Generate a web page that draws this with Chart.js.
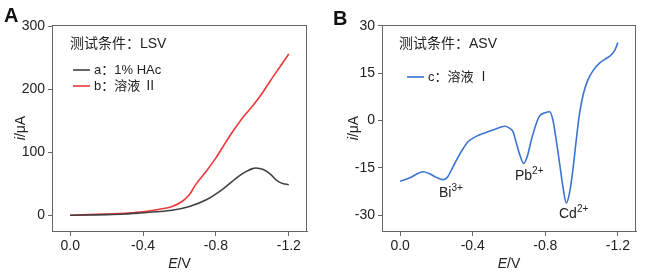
<!DOCTYPE html>
<html>
<head>
<meta charset="utf-8">
<script src="https://cdn.jsdelivr.net/npm/chart.js@4/dist/chart.umd.min.js"></script>
<style>
html, body { margin: 0; padding: 0; background: #fff; }
#wrap { position: relative; width: 647px; height: 276px; }
.panel { position: absolute; top: 0; height: 276px; }
</style>
</head>
<body>
<div id="wrap">
    <div class="panel" style="left:0;width:320px"><canvas id="chartA" width="320" height="276"></canvas></div>
    <div class="panel" style="left:320px;width:327px"><canvas id="chartB" width="327" height="276"></canvas></div>
</div>
<script>
// 전위 눈금 (E/V)
const eTicks = [0, -0.4, -0.8, -1.2];
const yTicksA = [0, 100, 200, 300];
const yTicksB = [-30, -15, 0, 15, 30];

// A: LSV 곡선 a (1% HAc)
const eA1 = [0, -0.1, -0.2, -0.3, -0.38, -0.47, -0.56, -0.655, -0.75, -0.84, -0.93, -0.97, -1.0, -1.02, -1.06, -1.1, -1.13, -1.16, -1.2];
const curveA = [0, 0.5, 1, 2, 3.5, 5.5, 8, 14, 25, 42, 63, 70, 74, 75, 72.5, 65, 56, 51, 48.5];
// A: LSV 곡선 b (용액 II)
const eA2 = [0, -0.1, -0.2, -0.3, -0.38, -0.49, -0.56, -0.62, -0.655, -0.69, -0.75, -0.8, -0.85, -0.9, -0.95, -1.0, -1.05, -1.1, -1.15, -1.2];
const curveB = [0, 1, 2, 3, 5, 9.5, 14, 23, 33, 49, 71, 91, 114, 136, 156, 173, 192, 214, 235, 256];

// B: ASV 곡선 c (용액 I)
const eB = [0, -0.05, -0.1, -0.127, -0.16, -0.2, -0.237, -0.26, -0.29, -0.32, -0.35, -0.374, -0.42, -0.466, -0.52, -0.576, -0.6, -0.622, -0.64, -0.66, -0.681, -0.7, -0.723, -0.75, -0.769, -0.8, -0.824, -0.842, -0.86, -0.879, -0.9, -0.916, -0.935, -0.952, -0.97, -0.989, -1.01, -1.035, -1.065, -1.099, -1.13, -1.163, -1.185, -1.2];
const curveC = [-19.2, -18.2, -16.7, -16.2, -16.8, -18, -18.7, -18, -14.8, -11.5, -8.6, -6.7, -5, -3.9, -2.8, -1.8, -2.3, -3.5, -7, -11, -13.6, -11.5, -6.2, -1, 1.5, 2.5, 2.8, 0.2, -6, -13.6, -22, -26.1, -22.5, -15.7, -6.5, 2.3, 8.5, 12.9, 16, 18.2, 19.5, 20.8, 22.5, 24.7];

const axisColor = '#666';
const labelColor = '#222';
const mixFont = 'Arial, "Noto Sans CJK SC", sans-serif';

function toPoints(xs, ys) {
    return xs.map((x, i) => ({ x: x, y: ys[i] }));
}

// 글자 조각을 이어서 그리는 함수 (이탤릭, 위첨자)
function drawRuns(ctx, x, y, runs, align) {
    let w = 0;
    runs.forEach(r => { ctx.font = r.font; w += ctx.measureText(r.text).width; });
    let cx = align === 'center' ? x - w / 2 : x;
    ctx.textAlign = 'left';
    ctx.textBaseline = 'alphabetic';
    runs.forEach(r => {
        ctx.font = r.font;
        ctx.fillText(r.text, cx, y + (r.dy || 0));
        cx += ctx.measureText(r.text).width;
    });
}

function makeScales(yMin, yMax, yTicks, yWidth) {
    return {
        x: {
            type: 'linear', reverse: true, min: -1.3, max: 0.1,
            afterBuildTicks: s => { s.ticks = eTicks.map(v => ({ value: v })); },
            afterFit: s => { s.height = 45; },
            ticks: {
                callback: v => v.toFixed(1),
                color: labelColor, font: { family: 'Arial', size: 14 },
                padding: 2, maxRotation: 0, autoSkip: false
            },
            grid: { drawOnChartArea: false, drawTicks: true, tickLength: 5, color: axisColor },
            border: { color: axisColor, width: 1 }
        },
        y: {
            type: 'linear', min: yMin, max: yMax,
            afterBuildTicks: s => { s.ticks = yTicks.map(v => ({ value: v })); },
            afterFit: s => { s.width = yWidth; },
            ticks: {
                callback: v => String(v),
                color: labelColor, font: { family: 'Arial', size: 14 },
                padding: 3, autoSkip: false
            },
            grid: { drawOnChartArea: false, drawTicks: true, tickLength: 4, color: axisColor },
            border: { color: axisColor, width: 1 }
        }
    };
}

function decorPlugin(cfg) {
    return {
        id: 'decor',
        afterDraw(chart) {
            const ctx = chart.ctx;
            const a = chart.chartArea;
            ctx.save();
            // 테두리
            ctx.strokeStyle = axisColor;
            ctx.lineWidth = 1;
            ctx.strokeRect(a.left + 0.5, a.top + 0.5, a.right - a.left - 1, a.bottom - a.top);
            ctx.fillStyle = '#111';
            // 패널 문자
            ctx.font = 'bold 20px Arial';
            ctx.textAlign = 'left';
            ctx.textBaseline = 'alphabetic';
            ctx.fillText(cfg.letter, cfg.letterX, cfg.letterY);
            // 축 제목
            ctx.fillStyle = labelColor;
            drawRuns(ctx, (a.left + a.right) / 2, 268, [
                { text: 'E', font: 'italic 14px Arial' },
                { text: '/V', font: '14px Arial' }
            ], 'center');
            ctx.save();
            ctx.translate(cfg.yTitleX, (a.top + a.bottom) / 2);
            ctx.rotate(-Math.PI / 2);
            drawRuns(ctx, 0, 5, [
                { text: 'i', font: 'italic 14px Arial' },
                { text: '/μA', font: '14px Arial' }
            ], 'center');
            ctx.restore();
            // 조건 문자
            ctx.fillStyle = '#222';
            ctx.font = '14px ' + mixFont;
            ctx.fillText(cfg.cond, cfg.condX, 48);
            // 범례
            cfg.legend.forEach(l => {
                ctx.strokeStyle = l.color;
                ctx.lineWidth = 1.6;
                ctx.beginPath();
                ctx.moveTo(l.x, l.y);
                ctx.lineTo(l.x + 17, l.y);
                ctx.stroke();
                ctx.fillStyle = '#222';
                ctx.font = '13px ' + mixFont;
                ctx.textBaseline = 'middle';
                ctx.fillText(l.text, l.x + 21, l.y);
                ctx.textBaseline = 'alphabetic';
            });
            // 피크 표시
            ctx.fillStyle = '#222';
            (cfg.peaks || []).forEach(p => {
                drawRuns(ctx, p.x, p.y, [
                    { text: p.base, font: '14px Arial' },
                    { text: p.sup, font: '10px Arial', dy: -6 }
                ], 'left');
            });
            ctx.restore();
        }
    };
}

const lineStyle = { borderWidth: 1.6, pointRadius: 0, fill: false, cubicInterpolationMode: 'monotone' };

new Chart(document.getElementById('chartA'), {
    type: 'line',
    data: {
        datasets: [
            Object.assign({ label: 'a', data: toPoints(eA1, curveA), borderColor: '#404040' }, lineStyle),
            Object.assign({ label: 'b', data: toPoints(eA2, curveB), borderColor: '#f0383c' }, lineStyle)
        ]
    },
    options: {
        responsive: false, animation: false,
        layout: { padding: { top: 25, right: 13, left: 0, bottom: 0 } },
        plugins: { legend: { display: false }, tooltip: { enabled: false } },
        scales: makeScales(-25, 302, yTicksA, 52)
    },
    plugins: [decorPlugin({
        letter: 'A', letterX: 4, letterY: 22, yTitleX: 20,
        cond: '测试条件：LSV', condX: 70,
        legend: [
            { x: 73, y: 70, color: '#404040', text: 'a：1% HAc' },
            { x: 73, y: 86, color: '#f0383c', text: 'b：溶液 Ⅱ' }
        ]
    })]
});

new Chart(document.getElementById('chartB'), {
    type: 'line',
    data: {
        datasets: [
            Object.assign({ label: 'c', data: toPoints(eB, curveC), borderColor: '#3a74d0' }, lineStyle)
        ]
    },
    options: {
        responsive: false, animation: false,
        layout: { padding: { top: 25, right: 11, left: 0, bottom: 0 } },
        plugins: { legend: { display: false }, tooltip: { enabled: false } },
        scales: makeScales(-35, 30.3, yTicksB, 62)
    },
    plugins: [decorPlugin({
        letter: 'B', letterX: 13, letterY: 25, yTitleX: 33,
        cond: '测试条件：ASV', condX: 79,
        legend: [
            { x: 87, y: 77, color: '#3a74d0', text: 'c：溶液 Ⅰ' }
        ],
        peaks: [
            { x: 119, y: 197, base: 'Bi', sup: '3+' },
            { x: 195, y: 180, base: 'Pb', sup: '2+' },
            { x: 239, y: 218, base: 'Cd', sup: '2+' }
        ]
    })]
});
</script>
</body>
</html>
